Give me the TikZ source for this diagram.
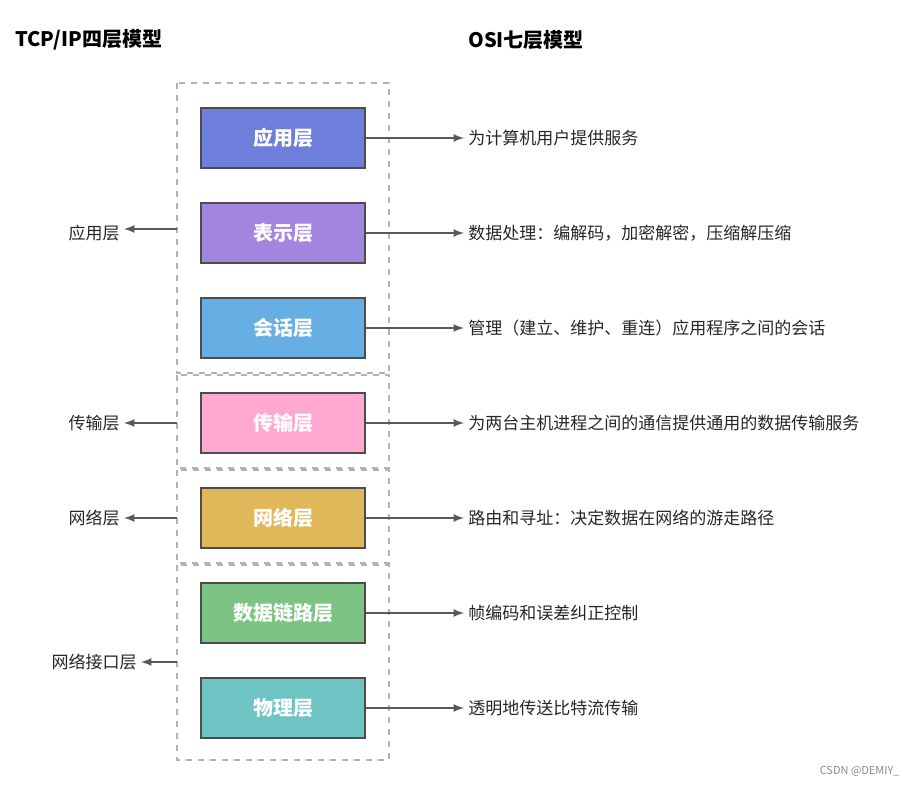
\documentclass[tikz,border=0pt]{standalone}
\usepackage{fontspec}
\setmainfont{Noto Sans CJK SC}
\begin{document}
\begin{tikzpicture}[x=0.5pt,y=-0.5pt,
  lay/.style={draw=black!70,line width=0.9pt,minimum width=82pt,minimum height=30pt,inner sep=0pt,text=white,font=\fontsize{10}{12}\selectfont\bfseries},
  grp/.style={draw=black!30,dashed,line width=0.8pt},
  desc/.style={anchor=west,inner sep=0pt,font=\fontsize{8.5}{10}\selectfont,text=black!85},
  tcp/.style={anchor=east,inner sep=0pt,font=\fontsize{8.5}{10}\selectfont,text=black!85},
  arr/.style={draw=black!65,line width=0.8pt,-latex},
  ttl/.style={anchor=west,inner sep=0pt,font=\fontsize{10}{12}\selectfont\bfseries}]
\useasboundingbox (0,0) rectangle (914,785);
\draw[grp] (177,83) rectangle (389,373);
\draw[grp] (177,375) rectangle (389,468);
\draw[grp] (177,470) rectangle (389,563);
\draw[grp] (177,565) rectangle (389,760);
\node[ttl] (t1) at (15,40) {TCP/IP四层模型};
\node[ttl] (t2) at (468,40) {OSI七层模型};
\node[lay,fill={rgb,255:red,109;green,127;blue,218}] (l1) at (283,138) {应用层};
\node[lay,fill={rgb,255:red,163;green,133;blue,224}] (l2) at (283,233) {表示层};
\node[lay,fill={rgb,255:red,103;green,174;blue,227}] (l3) at (283,328) {会话层};
\node[lay,fill={rgb,255:red,255;green,168;blue,208}] (l4) at (283,423) {传输层};
\node[lay,fill={rgb,255:red,224;green,184;blue,90}] (l5) at (283,518) {网络层};
\node[lay,fill={rgb,255:red,125;green,195;blue,131}] (l6) at (283,613) {数据链路层};
\node[lay,fill={rgb,255:red,110;green,195;blue,195}] (l7) at (283,708) {物理层};
\node[desc] (d1) at (468,138) {为计算机用户提供服务};
\node[desc] (d2) at (468,233) {数据处理：编解码，加密解密，压缩解压缩};
\node[desc] (d3) at (468,328) {管理（建立、维护、重连）应用程序之间的会话};
\node[desc] (d4) at (468,423) {为两台主机进程之间的通信提供通用的数据传输服务};
\node[desc] (d5) at (468,518) {路由和寻址：决定数据在网络的游走路径};
\node[desc] (d6) at (468,613) {帧编码和误差纠正控制};
\node[desc] (d7) at (468,708) {透明地传送比特流传输};
\foreach \i in {1,...,7}{\draw[arr] (l\i.east) -- ([xshift=-2]d\i.west);}
\node[tcp] (a1) at (120,233) {应用层};
\node[tcp] (a2) at (120,423) {传输层};
\node[tcp] (a3) at (120,518) {网络层};
\node[tcp] (a4) at (137,662) {网络接口层};
\coordinate (c1) at (177,229); \coordinate (c2) at (177,423);
\coordinate (c3) at (177,518); \coordinate (c4) at (177,662);
\foreach \i in {1,...,4}{\draw[arr] (c\i) -- ([xshift=2]a\i.east|-c\i);}
\node[anchor=east,inner sep=0pt,font=\fontsize{5.5}{7}\selectfont,text=black!45] (wm) at (900,771) {CSDN @DEMIY\_};
\end{tikzpicture}
\end{document}
